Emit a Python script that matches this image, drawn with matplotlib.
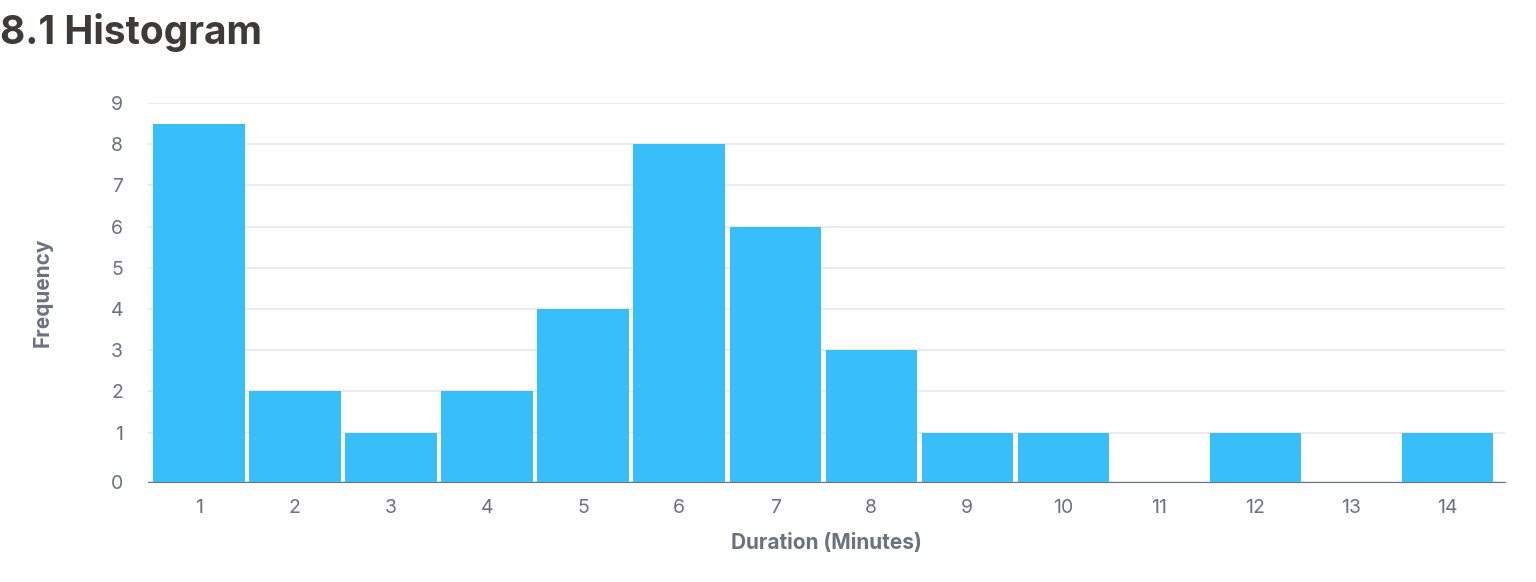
import numpy as np
import matplotlib
matplotlib.use("Agg")
import matplotlib.pyplot as plt

plt.rcParams['font.family'] = ['Inter', 'DejaVu Sans']

durations = [1, 2, 3, 4, 5, 6, 7, 8, 9, 10, 11, 12, 13, 14]
frequency = [8.5, 2, 1, 2, 4, 8, 6, 3, 1, 1, 0, 1, 0, 1]
yticks = [0, 1, 2, 3, 4, 5, 6, 7, 8, 9]

def fwd(y):
    y = np.asarray(y, dtype=float)
    return y + 0.2 * np.clip(y, 0, 1)

def inv(v):
    v = np.asarray(v, dtype=float)
    return np.where(v <= 1.2, v / 1.2, v - 0.2)

fig = plt.figure(figsize=(15.36, 5.82), dpi=100)
ax = fig.add_axes([148/1536, 1-482/582, (1505-148)/1536, (482-103)/582])
ax.set_yscale('function', functions=(fwd, inv))
ax.bar(durations, frequency, width=0.95, color='#38BFFA', zorder=3)
ax.set_ylim(0, 9)
ax.set_xlim(0.47, 14.6)
ax.set_yticks(yticks)
ax.set_xticks(durations)
ax.yaxis.grid(True, color='#e5e7eb', linewidth=1.2, zorder=0)
for s in ['top', 'right', 'left']:
    ax.spines[s].set_visible(False)
ax.spines['bottom'].set_color('#6b7280')
ax.tick_params(axis='both', length=0, labelsize=14, labelcolor='#6b7280')
ax.tick_params(axis='x', pad=12)
ax.tick_params(axis='y', pad=18)
ax.set_xlabel('Duration (Minutes)', fontsize=15, color='#6b7280', fontweight='bold', labelpad=12)
ax.set_ylabel('Frequency', fontsize=15, color='#6b7280', fontweight='bold', labelpad=42)
fig.text(0.0, 1-33/582, '8.1 Histogram', fontsize=28, fontweight='bold', color='#3f3a36', va='center', ha='left')
fig.savefig('out.png', dpi=100)
